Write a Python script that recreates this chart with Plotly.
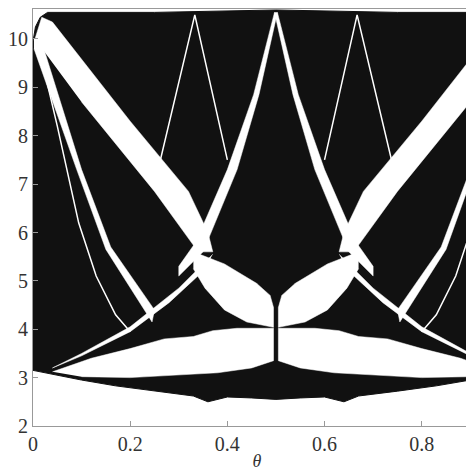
import plotly.graph_objects as go

# spectrum envelope (theta, energy)
top_th = [0.0, 0.005, 0.015, 0.03, 0.25, 0.5, 0.75, 0.97, 1.0]
top_e = [9.95, 10.25, 10.45, 10.55, 10.55, 10.6, 10.55, 10.55, 10.45]
bot_th = [0.0, 0.05, 0.10, 0.17, 0.25, 0.33, 0.36, 0.40, 0.45, 0.50,
          0.55, 0.60, 0.64, 0.67, 0.75, 0.83, 0.90, 0.95, 1.0]
bot_e = [3.15, 3.05, 2.95, 2.83, 2.72, 2.62, 2.5, 2.6, 2.58, 2.55,
         2.58, 2.6, 2.5, 2.62, 2.72, 2.83, 2.95, 3.05, 3.15]

# white gaps (polygons)
gaps = {
    "A": ([0.004, 0.018, 0.04, 0.20, 0.32, 0.36, 0.37, 0.34, 0.25, 0.10],
          [10.0, 10.45, 10.35, 8.3, 6.85, 6.0, 5.6, 5.6, 6.85, 8.7]),
    "A2": ([0.996, 0.982, 0.96, 0.80, 0.68, 0.64, 0.63, 0.66, 0.75, 0.90],
           [10.0, 10.45, 10.35, 8.3, 6.85, 6.0, 5.6, 5.6, 6.85, 8.7]),
    "B": ([0.002, 0.016, 0.10, 0.16, 0.25, 0.245, 0.15, 0.09, 0.002],
          [10.0, 10.0, 7.3, 5.7, 4.4, 4.15, 5.65, 7.3, 9.8]),
    "B2": ([0.998, 0.984, 0.90, 0.84, 0.75, 0.755, 0.85, 0.91, 0.998],
           [10.0, 10.0, 7.3, 5.7, 4.4, 4.15, 5.65, 7.3, 9.8]),
    "C": ([0.497, 0.454, 0.40, 0.335, 0.30, 0.30, 0.35, 0.42, 0.465, 0.503],
          [10.55, 8.85, 7.3, 5.8, 5.3, 5.1, 5.6, 7.3, 8.85, 10.55]),
    "C2": ([0.503, 0.546, 0.60, 0.665, 0.70, 0.70, 0.65, 0.58, 0.535, 0.497],
           [10.55, 8.85, 7.3, 5.8, 5.3, 5.1, 5.6, 7.3, 8.85, 10.55]),
    "D": ([0.37, 0.30, 0.20, 0.10, 0.04, 0.10, 0.20, 0.28, 0.35],
          [5.55, 4.85, 4.05, 3.5, 3.2, 3.45, 3.95, 4.55, 5.2]),
    "D2": ([0.63, 0.70, 0.80, 0.90, 0.96, 0.90, 0.80, 0.72, 0.65],
           [5.55, 4.85, 4.05, 3.5, 3.2, 3.45, 3.95, 4.55, 5.2]),
    "L": ([0.33, 0.394, 0.46, 0.488, 0.495, 0.495, 0.44, 0.394, 0.354, 0.33],
          [5.6, 5.35, 4.95, 4.7, 4.45, 4.04, 4.15, 4.4, 4.85, 5.25]),
    "L2": ([0.67, 0.606, 0.54, 0.512, 0.505, 0.505, 0.56, 0.606, 0.646, 0.67],
           [5.6, 5.35, 4.95, 4.7, 4.45, 4.04, 4.15, 4.4, 4.85, 5.25]),
    "cloud": ([0.04, 0.12, 0.20, 0.27, 0.33, 0.37, 0.42, 0.495, 0.495, 0.45, 0.38, 0.30, 0.20, 0.10],
              [3.12, 3.4, 3.6, 3.8, 3.85, 3.97, 4.02, 4.02, 3.35, 3.2, 3.1, 3.05, 3.0, 3.02]),
    "cloud2": ([0.96, 0.88, 0.80, 0.73, 0.67, 0.63, 0.58, 0.505, 0.505, 0.55, 0.62, 0.70, 0.80, 0.90],
               [3.12, 3.4, 3.6, 3.8, 3.85, 3.97, 4.02, 4.02, 3.35, 3.2, 3.1, 3.05, 3.0, 3.02]),
}

# thin white lines
lines = {
    "T1": ([0.008, 0.05, 0.094, 0.13, 0.17, 0.20], [10.0, 8.2, 6.2, 5.1, 4.3, 3.95]),
    "T2": ([0.992, 0.95, 0.906, 0.87, 0.83, 0.80], [10.0, 8.2, 6.2, 5.1, 4.3, 3.95]),
    "V1": ([0.248, 0.333, 0.40], [6.9, 10.5, 7.5]),
    "V2": ([0.752, 0.667, 0.60], [6.9, 10.5, 7.5]),
}

fig = go.Figure()
fig.add_trace(go.Scatter(x=bot_th, y=bot_e, mode="lines", line=dict(color="#111", width=1)))
fig.add_trace(go.Scatter(x=top_th, y=top_e, mode="lines", line=dict(color="#111", width=1),
                         fill="tonexty", fillcolor="#111"))
for name, (xs, ys) in gaps.items():
    fig.add_trace(go.Scatter(x=xs, y=ys, mode="lines", fill="toself", fillcolor="white",
                             line=dict(color="white", width=0.5)))
for name, (xs, ys) in lines.items():
    fig.add_trace(go.Scatter(x=xs, y=ys, mode="lines", line=dict(color="white", width=1.5)))

axis = dict(showgrid=False, zeroline=False, showline=True, linecolor="#999", mirror=True,
            ticks="inside", ticklen=5, tickcolor="#999")
fig.update_layout(
    width=474, height=474, showlegend=False,
    paper_bgcolor="white", plot_bgcolor="white",
    font=dict(family="Liberation Serif", size=20, color="#333"),
    margin=dict(l=13, r=0, t=0, b=56),
    xaxis=dict(axis, range=[0, 0.922], tickvals=[0, 0.2, 0.4, 0.6, 0.8],
               title=dict(text="<i>θ</i>", standoff=0, font=dict(size=18))),
    yaxis=dict(axis, range=[2, 10.62], tickvals=list(range(2, 11))),
)
fig.write_html("out.html")
